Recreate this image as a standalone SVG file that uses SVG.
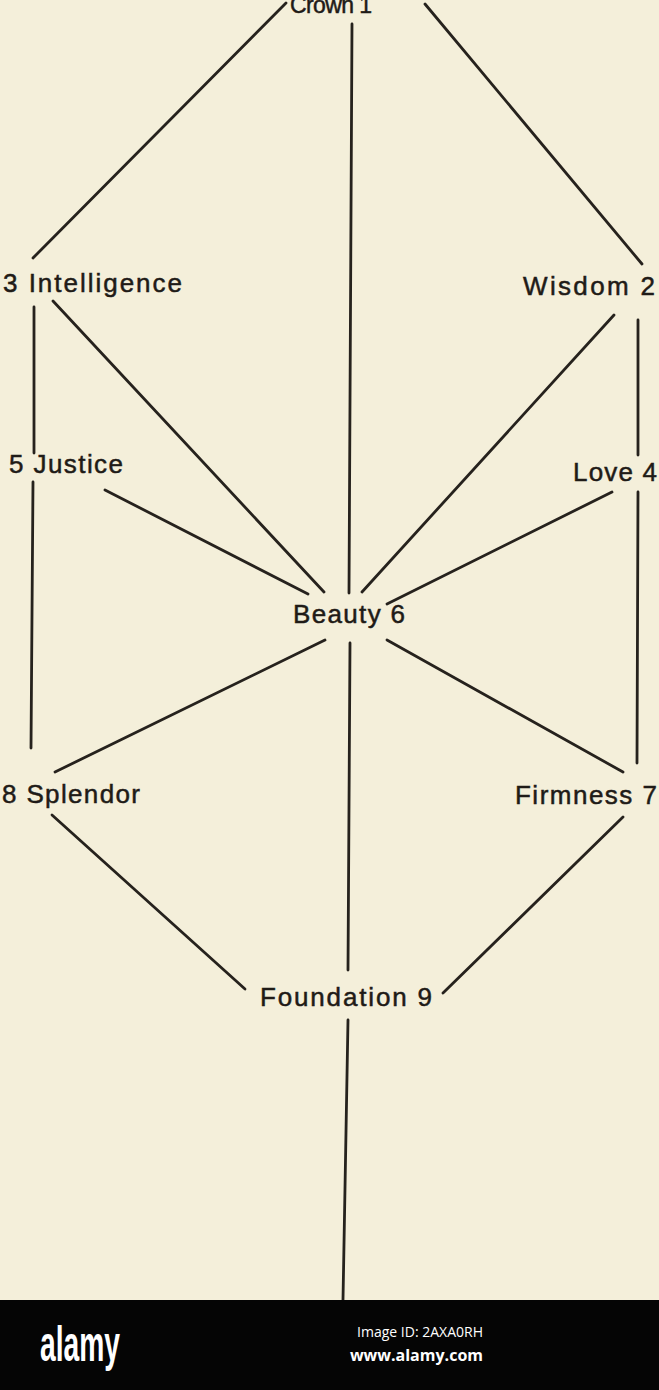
<svg xmlns="http://www.w3.org/2000/svg" width="659" height="1390" viewBox="0 0 659 1390">
<style>
.bg{fill:#f4efda}
.ln{stroke:#26221d;stroke-width:2.8;stroke-linecap:round;fill:none}
.lb{font-family:"Liberation Sans","DejaVu Sans",sans-serif;font-size:26px;fill:#1f1b17;stroke:#1f1b17;stroke-width:0.5}
.band{fill:#050505}
.logo{font-family:"Liberation Sans Narrow","Liberation Sans",sans-serif;font-weight:bold;font-size:50px;fill:#ffffff}
.id{font-family:"Open Sans","Liberation Sans",sans-serif;font-size:14px;fill:#ffffff}
.url{font-family:"Open Sans","Liberation Sans",sans-serif;font-weight:bold;font-size:16px;fill:#ffffff}
</style>
<rect class="bg" x="0" y="0" width="659" height="1300"/>
<g id="connectors">
<line class="ln" x1="286" y1="3" x2="33" y2="258"/>
<line class="ln" x1="425" y1="4" x2="642" y2="264"/>
<line class="ln" x1="352" y1="24" x2="349" y2="593"/>
<line class="ln" x1="34" y1="307" x2="34" y2="453"/>
<line class="ln" x1="33" y1="482" x2="31" y2="748"/>
<line class="ln" x1="638" y1="320" x2="638" y2="455"/>
<line class="ln" x1="638" y1="492" x2="637" y2="763"/>
<line class="ln" x1="53" y1="301" x2="324" y2="592"/>
<line class="ln" x1="614" y1="315" x2="362" y2="592"/>
<line class="ln" x1="105" y1="490" x2="308" y2="594"/>
<line class="ln" x1="612" y1="492" x2="387" y2="604"/>
<line class="ln" x1="325" y1="640" x2="55" y2="772"/>
<line class="ln" x1="387" y1="640" x2="623" y2="772"/>
<line class="ln" x1="350" y1="643" x2="348" y2="970"/>
<line class="ln" x1="52" y1="815" x2="245" y2="989"/>
<line class="ln" x1="623" y1="817" x2="443" y2="993"/>
<line class="ln" x1="348" y1="1020" x2="343" y2="1300"/>
</g>
<g id="crown"><text class="lb" x="290" y="13" style="font-size:23px" textLength="82" lengthAdjust="spacing">Crown 1</text></g>
<g id="intelligence"><text class="lb" x="3" y="292" textLength="179" lengthAdjust="spacing">3 Intelligence</text></g>
<g id="wisdom"><text class="lb" x="523" y="295" textLength="132" lengthAdjust="spacing">Wisdom 2</text></g>
<g id="justice"><text class="lb" x="9" y="473" textLength="114" lengthAdjust="spacing">5 Justice</text></g>
<g id="love"><text class="lb" x="573" y="481" textLength="84" lengthAdjust="spacing">Love 4</text></g>
<g id="beauty"><text class="lb" x="293" y="623" textLength="112" lengthAdjust="spacing">Beauty 6</text></g>
<g id="splendor"><text class="lb" x="2" y="803" textLength="138" lengthAdjust="spacing">8 Splendor</text></g>
<g id="firmness"><text class="lb" x="515" y="804" textLength="142" lengthAdjust="spacing">Firmness 7</text></g>
<g id="foundation"><text class="lb" x="260" y="1006" textLength="172" lengthAdjust="spacing">Foundation 9</text></g>
<g id="footer">
<rect class="band" x="0" y="1300" width="659" height="90"/>
<text class="logo" x="40" y="1361" textLength="80" lengthAdjust="spacingAndGlyphs">alamy</text>
<text class="id" x="483" y="1337" text-anchor="end">Image ID: 2AXA0RH</text>
<text class="url" x="483" y="1361" text-anchor="end">www.alamy.com</text>
</g>
</svg>
